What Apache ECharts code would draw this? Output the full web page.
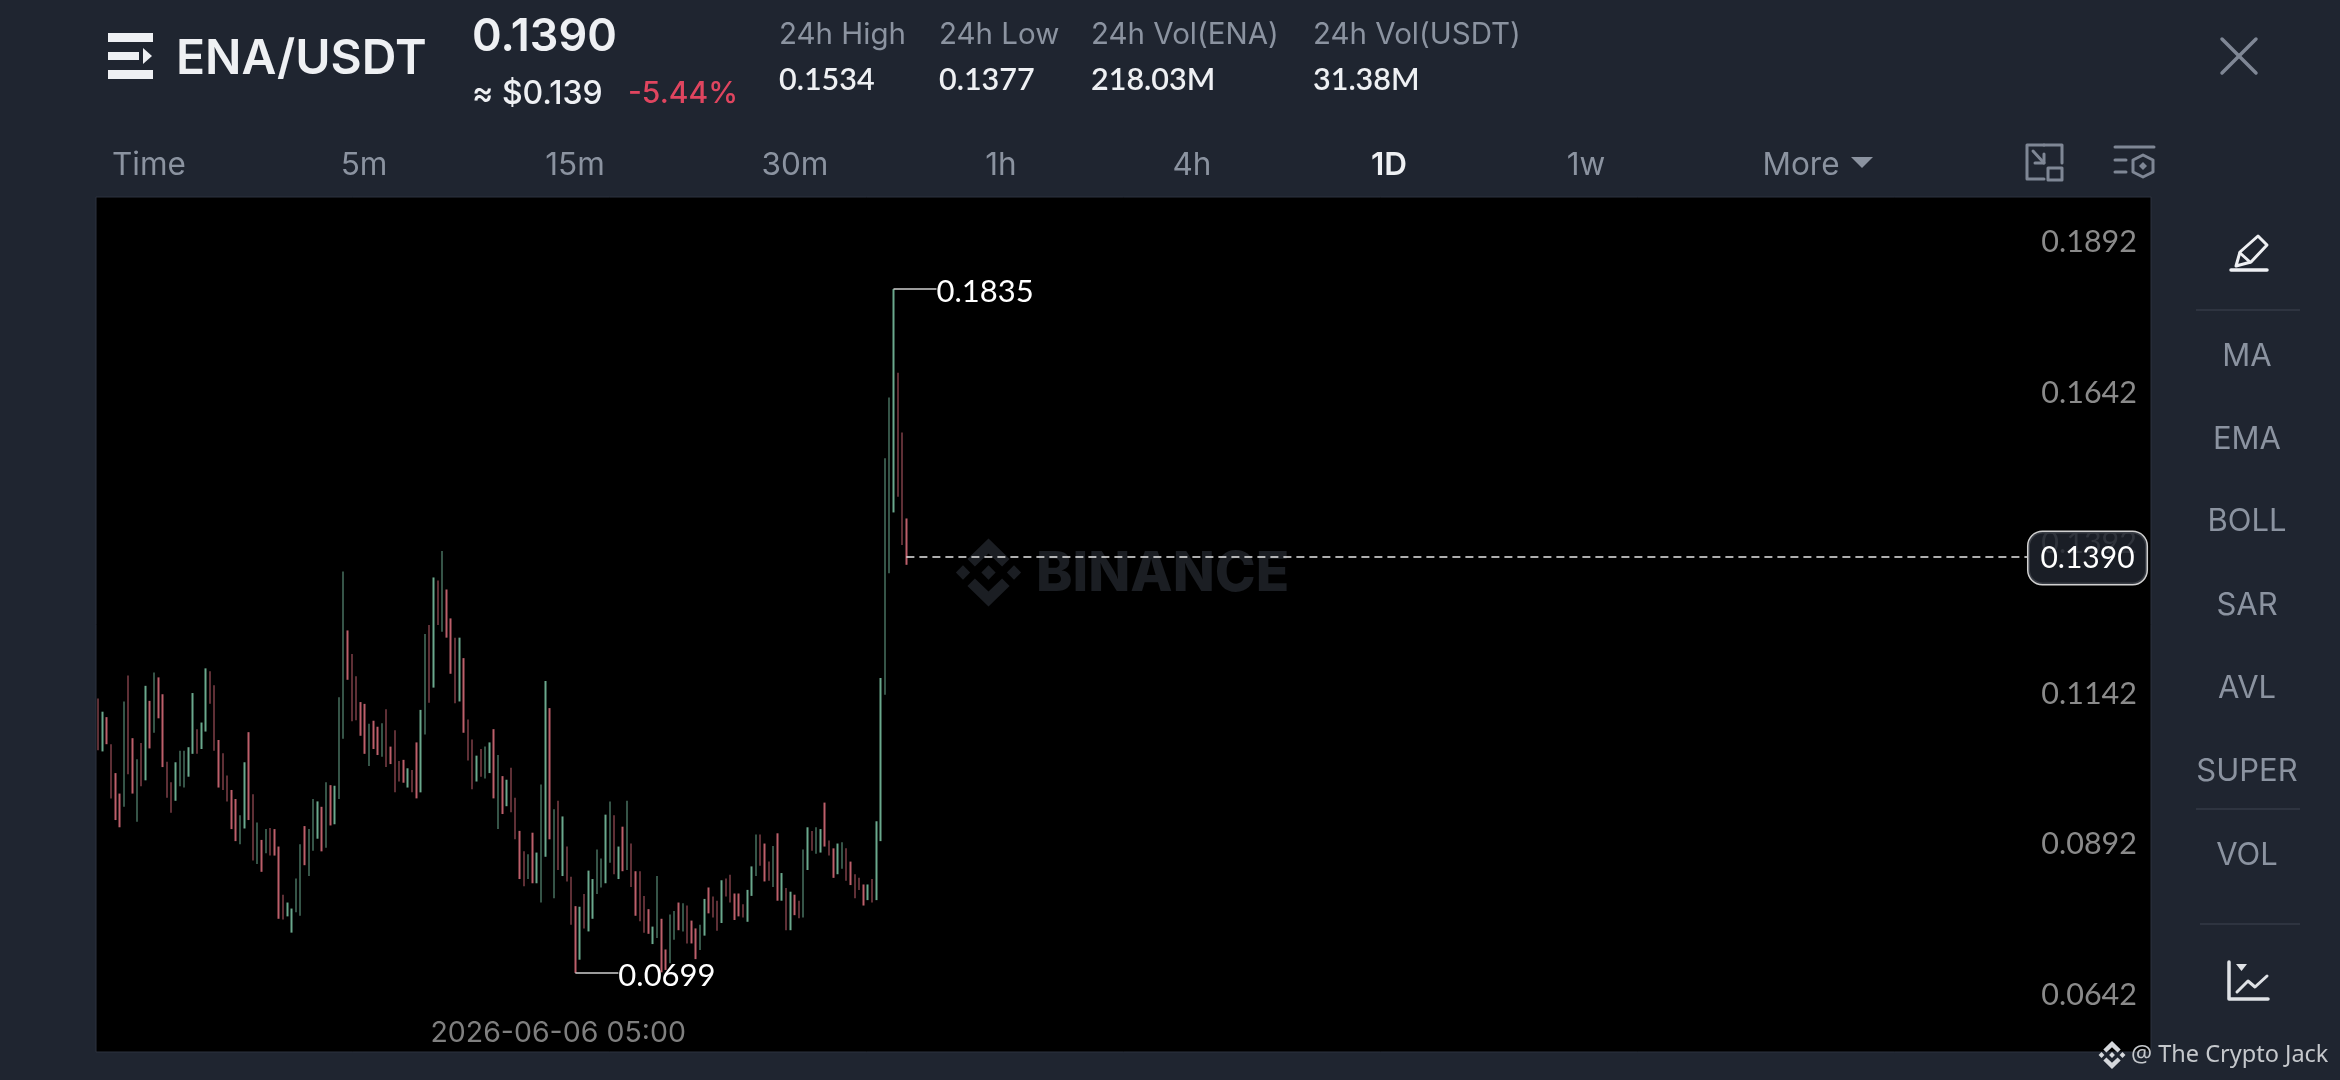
<!DOCTYPE html>
<html><head><meta charset="utf-8">
<style>html,body{margin:0;padding:0;background:#1f2530}#c{width:2340px;height:1080px}</style>
<script src="https://cdn.jsdelivr.net/npm/echarts@6/dist/echarts.min.js"></script>
</head><body><div id="c"></div>
<script>
// R = falling candle, G = rising candle
const sides = ("RGRRRRGRRG RGRGRRRRGG GGGRGGRRRR RRRGGRRGRG RRRRGGGGRG GGRGRGGGRR RRRGRRGRRR RRGRRGGRGR GRRRGRRRGR GGRGRGRRRR "
  +"GRGGGRGRGR RRGRGGGGGG RGRGRRRRRG GRRGGRGRRR GGRRRGRRRR RGGGRRRGRG RGRRGGRGGR RRGGRRRRRG RGGGGGRRR").replace(/ /g,"").split("");
const highs = [
0.1155,0.1133,0.1124,0.1079,0.1031,0.0997,0.1150,0.1193,0.1089,0.1054,0.1081,0.1176,0.1151,0.1198,0.1190,0.1162,0.1050,0.1016,0.1049,0.1068,
0.1068,0.1074,0.1164,0.1104,0.1115,0.1205,0.1200,0.1177,0.1086,0.1064,0.1027,0.1003,0.0988,0.0961,0.1049,0.1099,0.0996,0.0949,0.0920,0.0938,
0.0940,0.0938,0.0909,0.0829,0.0816,0.0806,0.0856,0.0913,0.0943,0.0938,0.0988,0.0984,0.0975,0.1016,0.1011,0.1010,0.1157,0.1366,0.1268,0.1229,
0.1192,0.1149,0.1146,0.1113,0.1118,0.1108,0.1114,0.1137,0.1075,0.1102,0.1051,0.1053,0.1039,0.1036,0.1082,0.1136,0.1262,0.1277,0.1356,0.1351,
0.1400,0.1336,0.1288,0.1256,0.1256,0.1222,0.1120,0.1087,0.1060,0.1071,0.1075,0.1082,0.1104,0.1061,0.1026,0.1020,0.1040,0.0990,0.0935,0.0901,
0.0896,0.0932,0.0899,0.1012,0.1184,0.1139,0.0971,0.0985,0.0959,0.0909,0.0859,0.0810,0.0809,0.0830,0.0869,0.0855,0.0904,0.0889,0.0962,0.0984,
0.0961,0.0909,0.0942,0.0985,0.0914,0.0868,0.0868,0.0827,0.0805,0.0776,0.0860,0.0789,0.0738,0.0796,0.0802,0.0816,0.0815,0.0811,0.0786,0.0773,
0.0779,0.0822,0.0841,0.0826,0.0819,0.0853,0.0856,0.0862,0.0831,0.0831,0.0813,0.0837,0.0876,0.0929,0.0929,0.0914,0.0884,0.0910,0.0931,0.0865,
0.0840,0.0834,0.0829,0.0819,0.0904,0.0941,0.0935,0.0941,0.0938,0.0982,0.0919,0.0906,0.0914,0.0916,0.0906,0.0884,0.0863,0.0857,0.0846,0.0846,
0.0855,0.0951,0.1189,0.1554,0.1655,0.1835,0.1696,0.1597,0.1454];
const lows = [
0.1069,0.1067,0.1079,0.0989,0.0953,0.0941,0.0975,0.1029,0.0997,0.0950,0.1009,0.1019,0.1072,0.1098,0.1122,0.1041,0.0990,0.0965,0.0985,0.1009,
0.1007,0.1025,0.1063,0.1063,0.1071,0.1100,0.1146,0.1068,0.1007,0.1003,0.0984,0.0938,0.0918,0.0913,0.0939,0.0953,0.0886,0.0880,0.0867,0.0898,
0.0894,0.0894,0.0789,0.0788,0.0793,0.0766,0.0800,0.0794,0.0878,0.0860,0.0902,0.0922,0.0901,0.0907,0.0944,0.0946,0.0988,0.1088,0.1186,0.1117,
0.1119,0.1093,0.1063,0.1043,0.1071,0.1061,0.1058,0.1041,0.1046,0.0999,0.1017,0.1015,0.1007,0.0999,0.0989,0.0999,0.1095,0.1148,0.1173,0.1277,
0.1266,0.1256,0.1196,0.1147,0.1150,0.1098,0.1052,0.1004,0.1017,0.1025,0.1022,0.1031,0.0989,0.0938,0.0963,0.0976,0.0966,0.0921,0.0855,0.0843,
0.0855,0.0848,0.0848,0.0816,0.0892,0.0921,0.0823,0.0870,0.0860,0.0851,0.0779,0.0699,0.0721,0.0773,0.0768,0.0789,0.0830,0.0841,0.0848,0.0882,
0.0863,0.0855,0.0868,0.0870,0.0842,0.0794,0.0785,0.0766,0.0764,0.0747,0.0757,0.0700,0.0704,0.0715,0.0754,0.0770,0.0768,0.0748,0.0748,0.0722,
0.0737,0.0761,0.0798,0.0791,0.0769,0.0782,0.0826,0.0816,0.0787,0.0793,0.0791,0.0784,0.0827,0.0860,0.0877,0.0851,0.0852,0.0842,0.0819,0.0819,
0.0770,0.0770,0.0795,0.0790,0.0791,0.0870,0.0902,0.0897,0.0899,0.0909,0.0894,0.0857,0.0863,0.0872,0.0852,0.0845,0.0823,0.0837,0.0811,0.0820,
0.0816,0.0820,0.0918,0.1161,0.1363,0.1464,0.1490,0.1410,0.1377];
const priceTicks = [0.1892,0.1642,0.1392,0.1142,0.0892,0.0642];
const axisRange = [0.05677,0.1988];
const highMark = 0.1835, lowMark = 0.0699, lastPrice = 0.1390;
const slotCount = 478, dateSlot = 107, dateTick = "2026-06-06 05:00";
const categories = Array.from({length:slotCount},(_,i)=>i===dateSlot?dateTick:"");
const candles = highs.map((h,i)=>{const l=lows[i];return sides[i]==="G"?[l,h,l,h]:[h,l,l,h];});
const headerStats = [["24h High","0.1534"],["24h Low","0.1377"],["24h Vol(ENA)","218.03M"],["24h Vol(USDT)","31.38M"]];
const periods = ["Time","5m","15m","30m","1h","4h","1D","1w","More"];
const sideItems = ["MA","EMA","BOLL","SAR","AVL","SUPER","VOL"];

const F='Inter, sans-serif', NUM='Lato, sans-serif', GREY='#8b93a0', WHITE='#eef0f3', RED='#bc5f6a', GREEN='#6aa88d';
const g=[];
function T(x,y,text,size,fill,weight,align,family){g.push({type:'text',silent:true,z:1,style:{x,y:y+3,text,fill,align:align||'left',verticalAlign:'middle',font:`${weight||400} ${size}px ${family||F}`}});}
function L(pts,stroke,lw,closed,fill){g.push({type:closed?'polygon':'polyline',silent:true,z:1,shape:{points:pts},style:{stroke:stroke,lineWidth:lw,fill:fill||(closed?'none':null),lineCap:'round',lineJoin:'round'}});}
function P(pts,fill){g.push({type:'polygon',silent:true,z:1,shape:{points:pts},style:{fill}});}
function logo(cx,cy,s,c){const m=(a)=>a.map(([x,y])=>[cx+x*s,cy+y*s]);
 P(m([[0,-.21],[.21,0],[0,.21],[-.21,0]]),c);P(m([[-.75,-.21],[-.54,0],[-.75,.21],[-.96,0]]),c);P(m([[.75,-.21],[.96,0],[.75,.21],[.54,0]]),c);
 P(m([[0,-1],[.62,-.4],[.4,-.18],[0,-.56],[-.4,-.18],[-.62,-.4]]),c);P(m([[0,1],[.62,.4],[.4,.18],[0,.56],[-.4,.18],[-.62,.4]]),c);}

// header
P([[108,33],[153,33],[153,42],[108,42]],WHITE);P([[108,70],[153,70],[153,79],[108,79]],WHITE);
P([[108,52],[139,52],[139,60],[108,60]],WHITE);P([[143,48],[152,56],[143,64]],WHITE);
T(176,57,"ENA/USDT",48,WHITE,600);
T(472,34,"0.1390",45,WHITE,600);
T(472,91,"≈ $0.139",32,WHITE,500);
T(628,91,"-5.44%",30,'#e0455f',500);
[779,939,1091,1313].forEach((x,i)=>{T(x,32,headerStats[i][0],29.5,GREY,400);T(x,77,headerStats[i][1],30.5,WHITE,600,'left',NUM);});
L([[2222,39],[2256,73]],'#7f8795',3.5);L([[2256,39],[2222,73]],'#7f8795',3.5);
// period tabs
[149,364,575,795,1001,1192,1389,1586,1801].forEach((x,i)=>T(x,162.5,periods[i],31.5,i===6?WHITE:GREY,i===6?600:400,'center'));
P([[1851,157],[1873,157],[1862,168]],GREY);
// toolbar icons
const IC='#7f8795';
L([[2044,145],[2062,145],[2062,163]],IC,3);L([[2044,179],[2027,179],[2027,145],[2044,145]],IC,3);
L([[2048,168],[2062,168],[2062,180],[2048,180],[2048,168]],IC,3);
L([[2033,151],[2044,163]],IC,3);L([[2044,154],[2044,163],[2035,163]],IC,3);
L([[2115,147],[2154,147]],IC,3);L([[2115,160],[2126,160]],IC,3);L([[2115,172],[2126,172]],IC,3);
L([[2143,155],[2153,160],[2153,172],[2143,177],[2133,172],[2133,160]],IC,3,true);P([[2143,162],[2147,166],[2143,170],[2139,166]],IC);
// side bar
L([[2236,266],[2240,252],[2258,236],[2267,245],[2251,262],[2236,266]],WHITE,3);L([[2240,253],[2250,262]],WHITE,3);
L([[2231,270],[2267,270]],WHITE,3.5);
[[2196,2300,310],[2196,2300,809],[2200,2300,924]].forEach(([a,b,y])=>g.push({type:'line',silent:true,z:1,shape:{x1:a,y1:y,x2:b,y2:y},style:{stroke:'#343a46',lineWidth:1.5}}));
[354,437,519,603,686,769,853].forEach((y,i)=>T(2247,y,sideItems[i],31,GREY,400,'center'));
L([[2229,962],[2229,999],[2268,999]],'#dfe2e6',3.5);L([[2237,992],[2248,981],[2255,987],[2267,976]],'#dfe2e6',3);
P([[2236,964],[2247,964],[2241.5,971]],'#dfe2e6');
// watermark + credit
logo(988.5,572.5,34,'#1b1e23');
T(1036,571,"BINANCE",55,'#1b1e23',800,'left','Inter, sans-serif');
logo(2112,1055,14,'#d5d8dc');
T(2131,1052,"@ The Crypto Jack",23.5,'#c5c8cc',400,'left','"Noto Sans", sans-serif');

const numLabel={show:true,position:'end',color:'#fff',fontSize:31,fontFamily:'Lato, sans-serif',distance:0,offset:[0,3]};
const chart=echarts.init(document.getElementById('c'),null,{renderer:'canvas'});
chart.setOption({
 backgroundColor:'#1f2530',animation:false,
 graphic:{elements:g},
 grid:{left:96,top:197,width:2055,height:855,show:true,backgroundColor:'#000',borderColor:'#2d333e',borderWidth:1,containLabel:false},
 xAxis:{type:'category',data:categories,boundaryGap:true,axisLine:{show:false},axisTick:{show:false},splitLine:{show:false},
   axisLabel:{inside:true,margin:4,interval:(i)=>i===dateSlot,color:'#7f7f7f',fontSize:28.5,fontFamily:'Inter, sans-serif',hideOverlap:false}},
 yAxis:{type:'value',position:'right',min:axisRange[0],max:axisRange[1],axisLine:{show:false},axisTick:{show:false},splitLine:{show:false},
   axisLabel:{inside:true,margin:14,customValues:priceTicks,formatter:v=>v.toFixed(4),color:'#8a8a8a',fontSize:30.5,lineHeight:25,verticalAlign:'bottom',fontFamily:'Lato, sans-serif'}},
 series:[{type:'candlestick',data:candles,barWidth:2,
   itemStyle:{color:GREEN,color0:RED,borderColor:GREEN,borderColor0:RED,borderWidth:0},
   markLine:{silent:true,symbol:'none',animation:false,precision:4,
     data:[
      [{coord:[185,highMark],lineStyle:{color:'#cfcfcf',width:1.5,type:'solid'},label:Object.assign({},numLabel,{formatter:highMark.toFixed(4)})},{coord:[195,highMark]}],
      [{coord:[111,lowMark],lineStyle:{color:'#cfcfcf',width:1.5,type:'solid'},label:Object.assign({},numLabel,{formatter:lowMark.toFixed(4)})},{coord:[121,lowMark]}],
      [{coord:[188,lastPrice],lineStyle:{color:'#e8e8e8',width:1.5,type:[8,5]},label:Object.assign({},numLabel,{offset:[0,1],fontSize:30,formatter:lastPrice.toFixed(4),padding:[12,12,10,12],backgroundColor:'rgba(30,35,45,0.85)',borderColor:'#d0d0d0',borderWidth:1.5,borderRadius:14})},{coord:[449,lastPrice]}]
     ]}
 }]
});
</script></body></html>
